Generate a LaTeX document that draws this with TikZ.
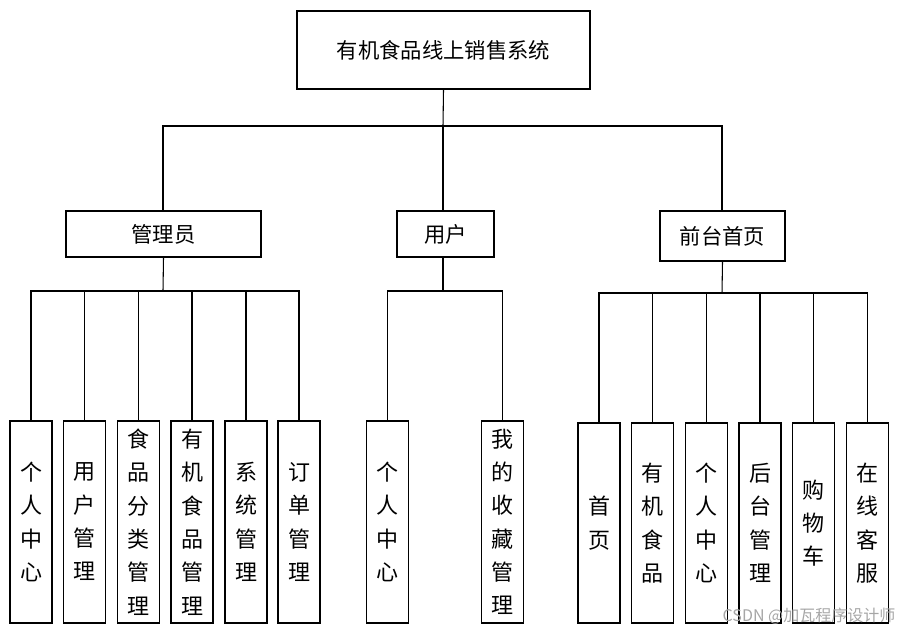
\documentclass[tikz,border=0pt]{standalone}
\usepackage{fontspec}
\setmainfont{Noto Sans CJK SC}
\begin{document}
\begin{tikzpicture}[x=0.75pt,y=-0.75pt,
  box/.style={draw,line width=0.8pt,inner sep=0pt,font=\fontsize{16}{20}\selectfont},
  leaf/.style={draw,line width=0.8pt,inner sep=0pt,minimum width=42*0.75pt,minimum height=202*0.75pt,align=center,font=\fontsize{16.5}{25}\selectfont},
  ln/.style={line width=0.8pt}]
\useasboundingbox (0,0) rectangle (912,635);
\node[box,minimum width=293*0.75pt,minimum height=78*0.75pt] (top) at (443.5,50) {有机食品线上销售系统};
\node[box,minimum width=195*0.75pt,minimum height=46*0.75pt] (g) at (163.5,234) {管理员};
\node[box,minimum width=97*0.75pt,minimum height=46*0.75pt] (u) at (445.5,234) {用户};
\node[box,minimum width=125*0.75pt,minimum height=50*0.75pt] (q) at (722.5,236) {前台首页};
\coordinate (j0) at (443,126);
\draw[ln] (top.south) -- (j0);
\draw[ln] (j0) -| (163,211);
\draw[ln] (j0) -| (722,211);
\draw[ln] (j0) -- (443,211);
% admin leaves
\foreach \n/\x/\t in {a1/31/个\\人\\中\\心, a2/84.5/用\\户\\管\\理, a3/138.5/食\\品\\分\\类\\管\\理, a4/192/有\\机\\食\\品\\管\\理, a5/246/系\\统\\管\\理, a6/299/订\\单\\管\\理}{
  \node[leaf] (\n) at (\x,522) {\t};
}
\coordinate (jg) at (163,291);
\draw[ln] (g.south) -- (jg);
\draw[ln] (a1.north) |- (a6.north |- jg) -- (a6.north);
\foreach \n in {a2,a3,a4,a5}{\draw[ln] (\n.north) -- (\n.north |- jg);}
% user leaves
\node[leaf] (u1) at (387.5,522) {个\\人\\中\\心};
\node[leaf] (u2) at (502.5,522) {我\\的\\收\\藏\\管\\理};
\coordinate (ju) at (443,291);
\draw[ln] (443,257) -- (ju);
\draw[ln] (u1.north) |- (ju) -| (u2.north);
% front leaves
\foreach \n/\x/\t in {f1/599/首\\页, f2/652.5/有\\机\\食\\品, f3/706.5/个\\人\\中\\心, f4/760/后\\台\\管\\理, f5/813.5/购\\物\\车, f6/867.5/在\\线\\客\\服}{
  \node[leaf,minimum height=200*0.75pt] (\n) at (\x,523) {\t};
}
\coordinate (jq) at (722,293);
\draw[ln] (q.south) -- (jq);
\draw[ln] (f1.north) |- (f6.north |- jq) -- (f6.north);
\foreach \n in {f2,f3,f4,f5}{\draw[ln] (\n.north) -- (\n.north |- jq);}
\node[text=gray!70,font=\fontsize{12}{14}\selectfont,anchor=east] (wm) at (900,616) {CSDN @加瓦程序设计师};
\end{tikzpicture}
\end{document}
